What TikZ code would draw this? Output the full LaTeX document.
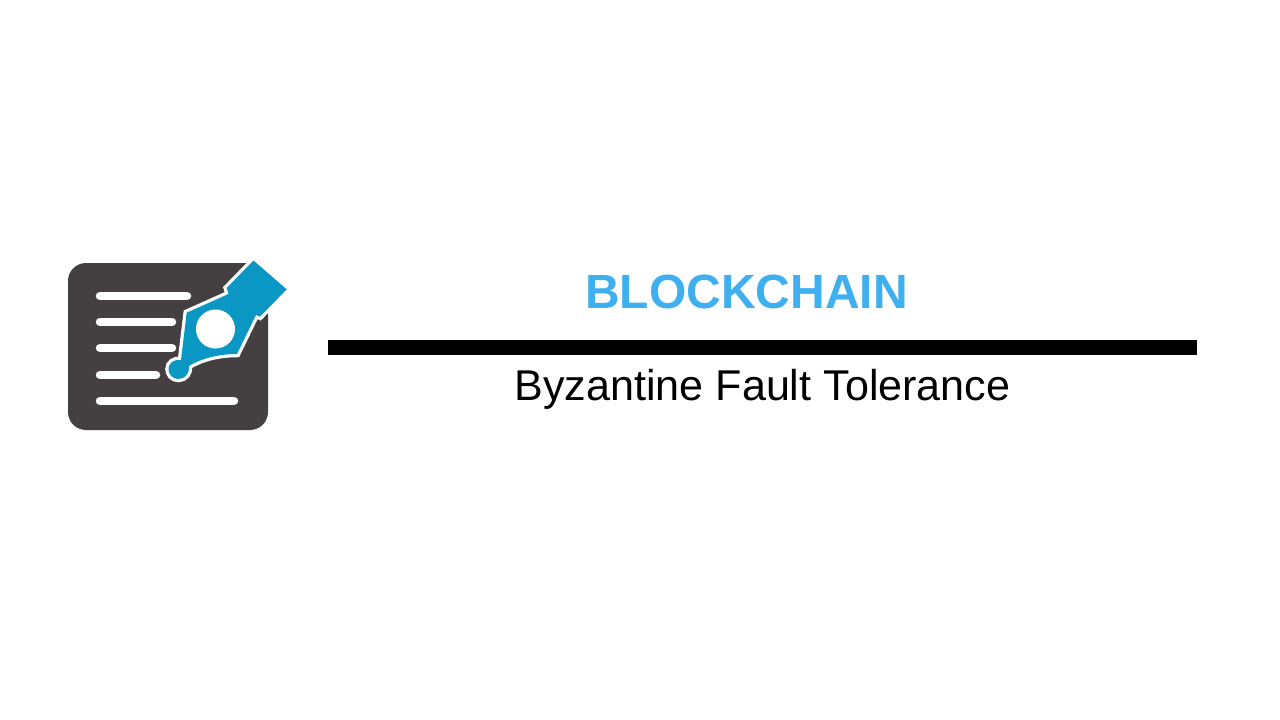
\documentclass[tikz,border=0pt]{standalone}
\usepackage{fontspec}
\setmainfont{Liberation Sans}
\usepackage{tikz}
\usetikzlibrary{positioning}
\definecolor{cardgray}{HTML}{444041}
\definecolor{penblue}{HTML}{0A97C4}
\definecolor{titleblue}{HTML}{3FB0EF}
\tikzset{
	title/.style={
		anchor=base,
		inner sep=0pt,
		text=titleblue,
		font=\fontsize{48}{52}\selectfont\bfseries
	},
	subtitle/.style={
		anchor=base,
		inner sep=0pt,
		text=black,
		font=\fontsize{43.1}{50}\selectfont
	},
	textline/.style={
		draw=white,
		line width=8.5pt,
		line cap=round
	},
	card/.style={
		fill=cardgray,
		rounded corners=18pt
	},
	pen/.style={
		fill=penblue,
		line join=round,
		preaction={draw=white,line width=6.5pt}
	}
}

\begin{document}
\begin{tikzpicture}[x=1pt,y=-1pt]
	\useasboundingbox (0,0) rectangle (1280,720);

	% document icon
	\fill [card] (68,263) rectangle (268,430);
	\draw [textline] (100,296) -- (187,296);
	\draw [textline] (100,322) -- (172,322);
	\draw [textline] (100,348) -- (172,348);
	\draw [textline] (100,375) -- (156,375);
	\draw [textline] (100,401) -- (234,401);

	% fountain pen
	\path [pen] (253.5,260.5) -- (286.7,289.3) -- (260,316.7) -- (256,315) -- (237,354)
		.. controls (222,354) and (204,357) .. (189,366)
		.. controls (190,373) and (185,379) .. (178.5,379)
		.. controls (172,379) and (168.5,374) .. (168.5,369)
		.. controls (168.5,363) and (174,359) .. (181,360)
		-- (186.7,312.7) -- (228.5,294) -- (226.7,288) -- cycle;
	\fill [white] (215.5,329) circle (19.5);

	% heading
	\node (title) [title] at (746.5,308) {BLOCKCHAIN};
	\fill (328,340) rectangle (1197,355);
	\node (subtitle) [subtitle] at (762.5,400.5) {Byzantine Fault Tolerance};
\end{tikzpicture}
\end{document}
